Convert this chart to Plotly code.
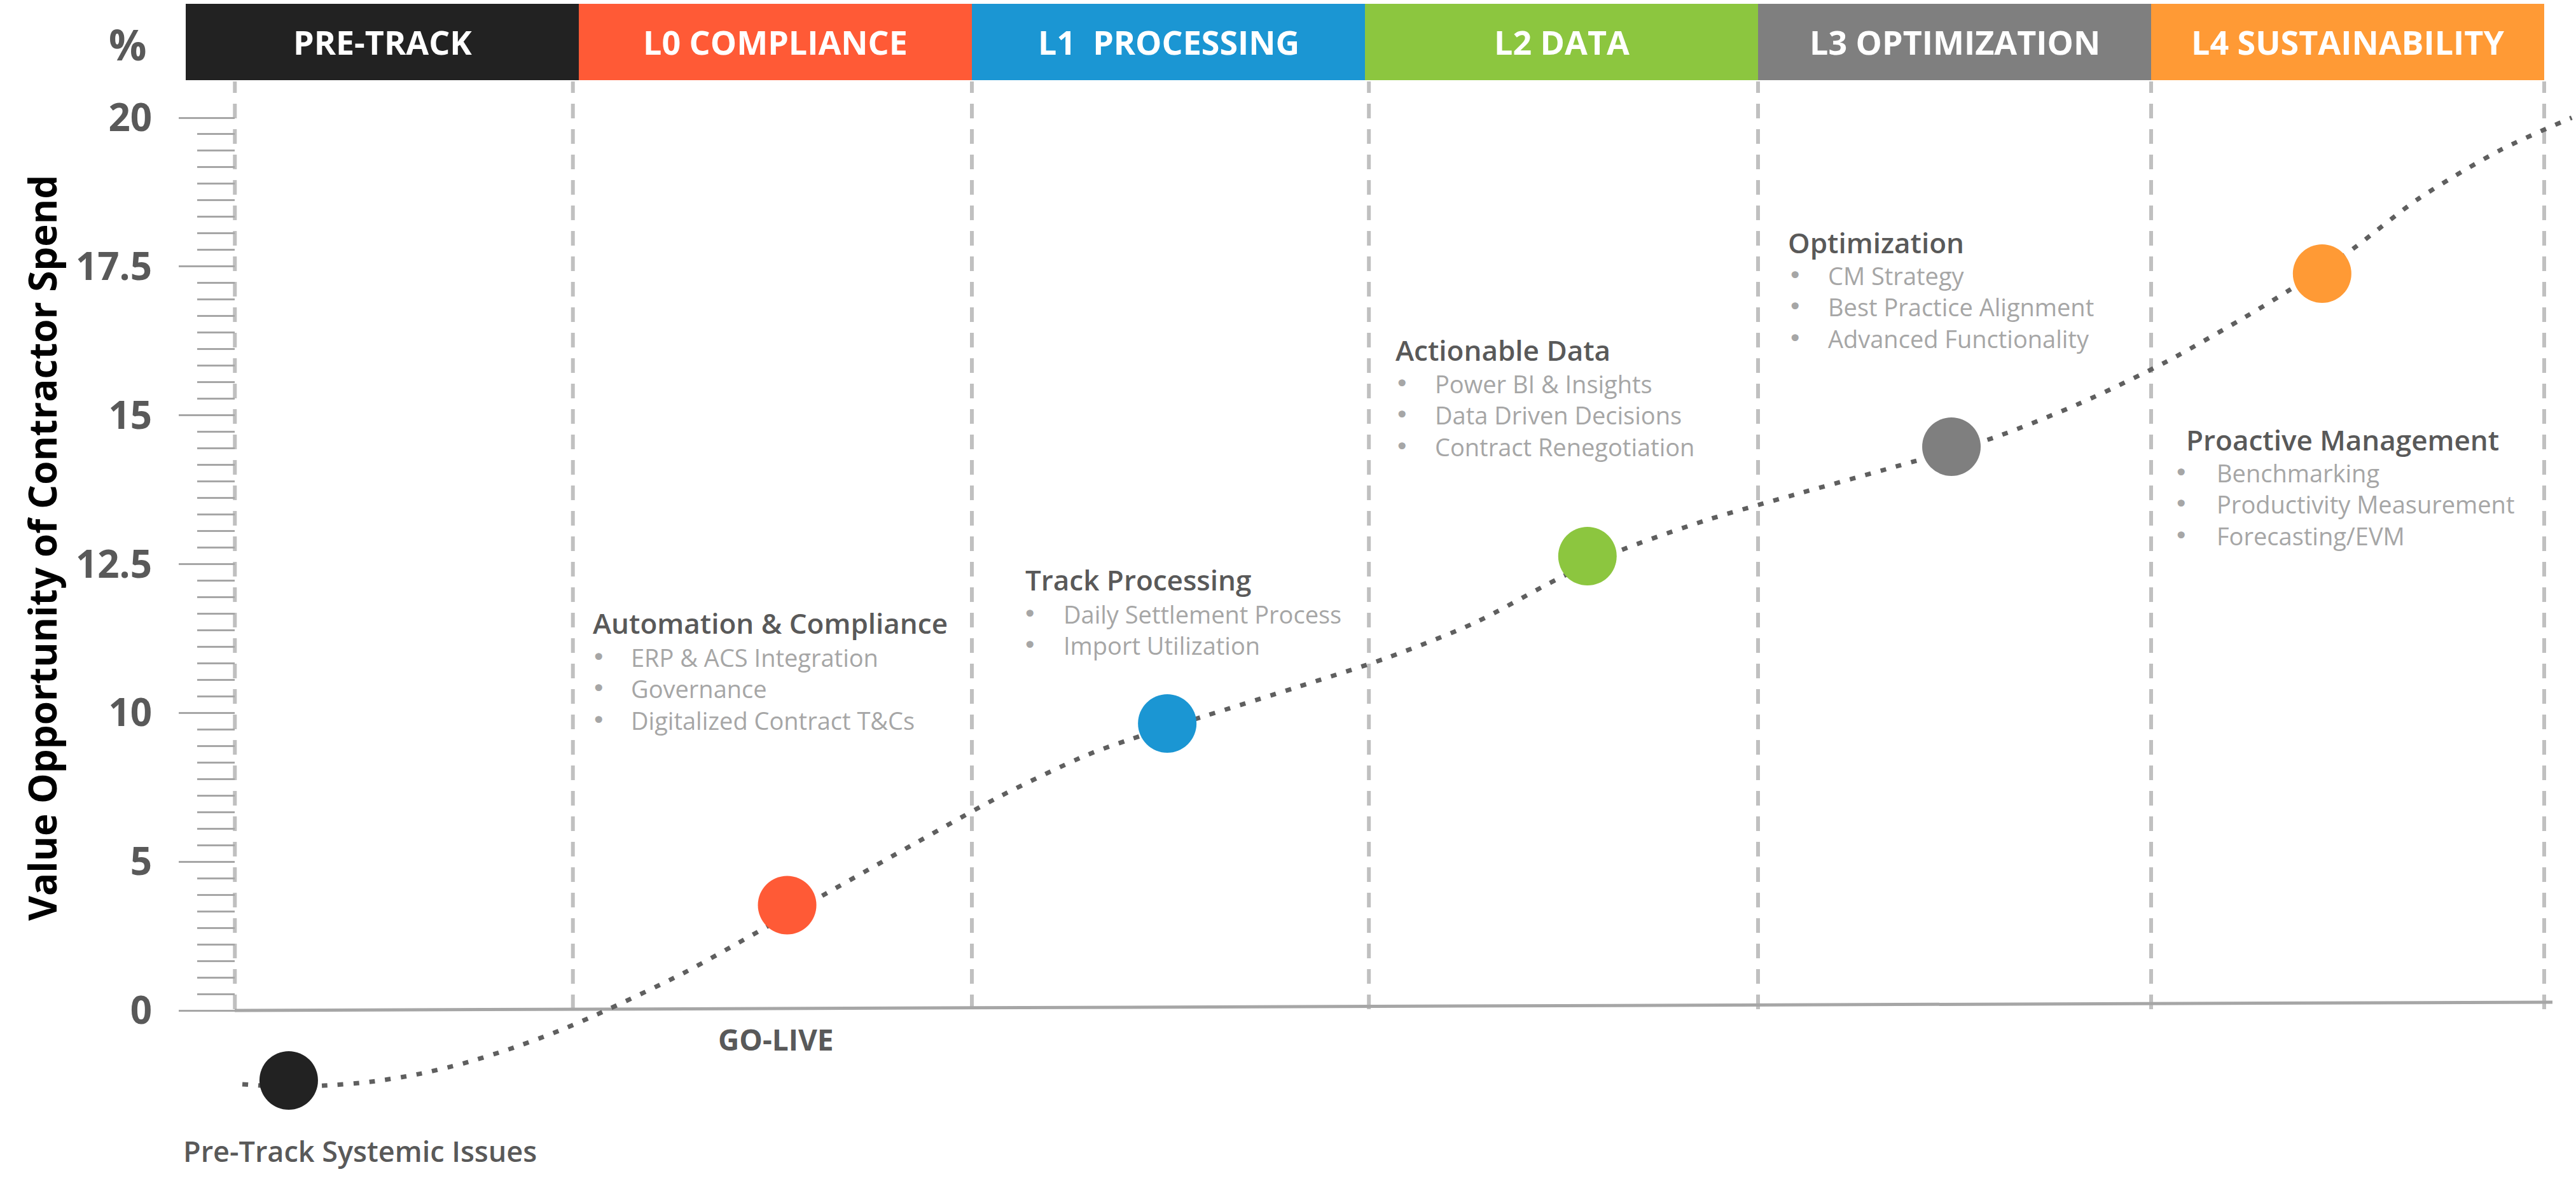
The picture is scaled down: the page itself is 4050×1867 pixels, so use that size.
import plotly.graph_objects as go

W, H = 4050, 1867

# ---------------- data ----------------
stages = ["PRE-TRACK", "L0 COMPLIANCE", "L1  PROCESSING", "L2 DATA", "L3 OPTIMIZATION", "L4 SUSTAINABILITY"]
stage_colors = ["#222222", "#FF5A36", "#1B96D3", "#8CC63F", "#7F7F7F", "#FF9A35"]

# y axis: equally spaced tiers with these labels (value opportunity %)
tier_labels = ["0", "5", "10", "12.5", "15", "17.5", "20"]
tier_pos = [0, 1, 2, 3, 4, 5, 6]

# milestone markers: x in stage units, y in tier units
milestone_pos = [0.262, 1.530, 2.497, 3.566, 4.492, 5.435]
milestone_level = [-0.47, 0.708, 1.929, 3.053, 3.789, 4.952]

# dotted value curve (stage units, tier units)
curve_pos = [0.144, 0.262, 0.351, 0.471, 0.591, 0.707, 0.822, 0.937, 1.047, 1.264, 1.474,
             1.650, 1.862, 2.073, 2.291, 2.403, 2.594, 2.827, 3.055, 3.278, 3.490, 3.641,
             3.866, 4.095, 4.328, 4.599, 4.822, 5.040, 5.251, 5.354, 5.494, 5.681, 5.888, 6.070]
curve_level = [-0.496, -0.513, -0.505, -0.479, -0.428, -0.355, -0.261, -0.150, -0.026, 0.248, 0.556,
               0.817, 1.133, 1.441, 1.715, 1.822, 1.980, 2.173, 2.369, 2.604, 2.900, 3.083,
               3.293, 3.468, 3.639, 3.849, 4.084, 4.362, 4.679, 4.845, 5.081, 5.457, 5.782, 6.000]

block_titles = ["Automation & Compliance", "Track Processing", "Actionable Data",
                "Optimization", "Proactive Management"]
block_items = [
    ["ERP & ACS Integration", "Governance", "Digitalized Contract T&Cs"],
    ["Daily Settlement Process", "Import Utilization"],
    ["Power BI & Insights", "Data Driven Decisions", "Contract Renegotiation"],
    ["CM Strategy", "Best Practice Alignment", "Advanced Functionality"],
    ["Benchmarking", "Productivity Measurement", "Forecasting/EVM"],
]

# ---------------- layout helpers (pixel placement of decorations) ----------------
def PX(p):
    return p / W

def PY(p):
    return 1 - p / H

FONT = "Open Sans"
DARK = "#595959"
LIGHT = "#A6A6A6"

fig = go.Figure()

# dotted curve
fig.add_trace(go.Scatter(
    x=curve_pos, y=curve_level, mode="lines",
    line=dict(shape="spline", smoothing=0.8, color="#5F5F5F", width=7, dash="9px,16px"),
    hoverinfo="skip", showlegend=False))

# milestone markers
fig.add_trace(go.Scatter(
    x=milestone_pos, y=milestone_level, mode="markers",
    marker=dict(size=92, color=stage_colors, line=dict(width=0), opacity=1),
    hoverinfo="skip", showlegend=False, cliponaxis=False))

# invisible trace for the tick axis
fig.add_trace(go.Scatter(x=[0], y=[0], xaxis="x", yaxis="y2", mode="markers",
                         marker=dict(opacity=0), hoverinfo="skip", showlegend=False))

shapes = []
# header bands
for k, c in enumerate(stage_colors):
    shapes.append(dict(type="rect", xref="x", yref="paper", x0=k, x1=k + 1,
                       y0=PY(126), y1=PY(6), fillcolor=c, line=dict(width=0), layer="below"))
# dashed vertical separators
for xv in [0.125, 0.985, 2.0, 3.01, 4.0, 5.0, 6.0]:
    shapes.append(dict(type="line", xref="x", yref="paper", x0=xv, x1=xv,
                       y0=PY(1586), y1=PY(128),
                       line=dict(color="#C0C0C0", width=6, dash="23px,17px"), layer="below"))
# baseline
shapes.append(dict(type="line", xref="x", yref="y", x0=0.1246, x1=6.021, y0=0, y1=0.056,
                   line=dict(color="#A6A6A6", width=5), layer="below"))

ann = []
for k, name in enumerate(stages):
    ann.append(dict(x=k + 0.5, y=PY(65), xref="x", yref="paper", text=name, showarrow=False,
                    xanchor="center", yanchor="middle",
                    font=dict(family=FONT, size=52, color="white", weight="bold")))

ann.append(dict(x=PX(200), y=PY(69), xref="paper", yref="paper", text="%", showarrow=False,
                xanchor="center", yanchor="middle",
                font=dict(family=FONT, size=66, color=DARK, weight="bold")))
ann.append(dict(x=PX(66), y=PY(861), xref="paper", yref="paper",
                text="Value Opportunity of Contractor Spend", showarrow=False, textangle=-90,
                xanchor="center", yanchor="middle",
                font=dict(family=FONT, size=60, color="#000000", weight="bold")))

TS, BS = 44, 38
block_place = [  # title_x, title_baseline, bullet_x, text_x, first_baseline
    (931, 995, 929, 991, 1047),
    (1611, 927, 1607, 1671, 979),
    (2193, 566, 2192, 2255, 617),
    (2810, 397, 2810, 2873, 447),
    (3436, 707, 3417, 3484, 757),
]
for title, items, (tx, tb, bx, ix, fb) in zip(block_titles, block_items, block_place):
    ann.append(dict(x=PX(tx), y=PY(tb - 0.37 * TS), xref="paper", yref="paper", text=title,
                    showarrow=False, xanchor="left", yanchor="middle", borderpad=0,
                    font=dict(family=FONT, size=TS, color=DARK, weight=600)))
    n = len(items)
    mid = fb + (n - 1) * 1.3 * BS / 2 - 0.37 * BS
    ann.append(dict(x=PX(bx), y=PY(mid), xref="paper", yref="paper",
                    text="<br>".join(["•"] * n), showarrow=False, xanchor="left",
                    yanchor="middle", align="left", borderpad=0,
                    font=dict(family="DejaVu Sans", size=BS, color=LIGHT)))
    ann.append(dict(x=PX(ix), y=PY(mid), xref="paper", yref="paper",
                    text="<br>".join(items), showarrow=False, xanchor="left",
                    yanchor="middle", align="left", borderpad=0,
                    font=dict(family=FONT, size=BS, color=LIGHT)))

ann.append(dict(x=PX(1220), y=PY(1650 - 0.37 * 46), xref="paper", yref="paper", text="GO-LIVE",
                showarrow=False, xanchor="center", yanchor="middle",
                font=dict(family=FONT, size=46, color=DARK, weight="bold")))
ann.append(dict(x=PX(287), y=PY(1825 - 0.37 * 45), xref="paper", yref="paper",
                text="Pre-Track Systemic Issues", showarrow=False, xanchor="left",
                yanchor="middle", borderpad=0,
                font=dict(family=FONT, size=45, color=DARK, weight=600)))

fig.update_layout(
    width=W, height=H,
    margin=dict(l=0, r=0, t=0, b=0, autoexpand=False),
    paper_bgcolor="white", plot_bgcolor="rgba(0,0,0,0)",
    showlegend=False, hovermode=False,
    xaxis=dict(range=[-292 / 618, (W - 292) / 618], visible=False, domain=[0, 1],
               automargin=False),
    yaxis=dict(range=[-(H - 1588) / 233.83, 1588 / 233.83], visible=False, domain=[0, 1],
               automargin=False),
    yaxis2=dict(domain=[PY(1588), PY(185)], range=[0, 6], anchor="free", position=PX(369),
                side="left", tickvals=tier_pos, ticktext=tier_labels, automargin=False,
                ticks="outside", ticklen=88, tickwidth=3, tickcolor="#A6A6A6",
                showline=False, showgrid=False, zeroline=False,
                tickfont=dict(family=FONT, size=60, color=DARK, weight="bold"),
                ticklabelstandoff=30,
                minor=dict(dtick=1 / 9, tick0=0, ticks="outside", ticklen=59, tickwidth=3,
                           tickcolor="#A6A6A6", showgrid=False)),
    shapes=shapes, annotations=ann,
)

fig.write_html("out.html", config={"displayModeBar": False})
